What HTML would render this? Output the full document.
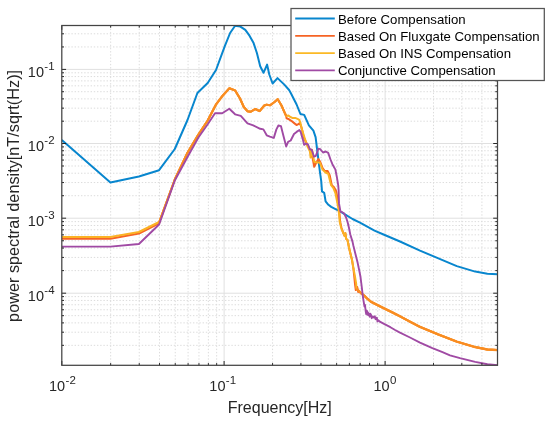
<!DOCTYPE html>
<html><head><meta charset="utf-8"><style>
html,body{margin:0;padding:0;background:#fff;}
svg{display:block;}
text{font-family:"Liberation Sans",Arial,sans-serif;fill:#262626;}
.t{font-size:14.5px;}
.s{font-size:11.5px;}
.lab{font-size:16px;}
.ylab{font-size:16.25px;}
.lg{font-size:13.2px;fill:#000;}
</style></head><body>
<svg width="550" height="424" viewBox="0 0 550 424">
<defs><clipPath id="clip"><rect x="61.8" y="25.5" width="435.70" height="339.80"/></clipPath></defs>
<rect width="550" height="424" fill="#fff"/>
<path d="M110.66 25.5V365.3M139.24 25.5V365.3M159.51 25.5V365.3M175.24 25.5V365.3M188.09 25.5V365.3M198.96 25.5V365.3M208.37 25.5V365.3M216.67 25.5V365.3M272.57 25.5V365.3M300.92 25.5V365.3M321.03 25.5V365.3M336.63 25.5V365.3M349.38 25.5V365.3M360.16 25.5V365.3M369.50 25.5V365.3M377.73 25.5V365.3M433.51 25.5V365.3M461.82 25.5V365.3M481.92 25.5V365.3M61.8 345.34H497.5M61.8 332.21H497.5M61.8 322.89H497.5M61.8 315.66H497.5M61.8 309.75H497.5M61.8 304.76H497.5M61.8 300.43H497.5M61.8 296.61H497.5M61.8 270.62H497.5M61.8 257.42H497.5M61.8 248.05H497.5M61.8 240.78H497.5M61.8 234.84H497.5M61.8 229.82H497.5M61.8 225.47H497.5M61.8 221.63H497.5M61.8 195.71H497.5M61.8 182.56H497.5M61.8 173.23H497.5M61.8 165.99H497.5M61.8 160.07H497.5M61.8 155.07H497.5M61.8 150.74H497.5M61.8 146.92H497.5M61.8 121.19H497.5M61.8 108.15H497.5M61.8 98.89H497.5M61.8 91.71H497.5M61.8 85.84H497.5M61.8 80.88H497.5M61.8 76.58H497.5M61.8 72.79H497.5M61.8 46.94H497.5M61.8 33.81H497.5" stroke="#dcdcdc" stroke-width="1" stroke-dasharray="1.4 1.8" fill="none"/>
<path d="M224.10 25.5V365.3M385.10 25.5V365.3M61.8 293.20H497.5M61.8 218.20H497.5M61.8 143.50H497.5M61.8 69.40H497.5" stroke="#e0e0e0" stroke-width="1" fill="none"/>
<g clip-path="url(#clip)">
<path d="M61.8 139.9 L110.4 182.6 L138.9 176.5 L159.1 170.2 L174.8 149.0 L187.5 120.0 L197.4 93.0 L207.7 83.0 L216.0 70.0 L224.7 46.4 L230.1 33.0 L235.1 25.7 L240.4 26.6 L245.3 29.9 L249.5 35.7 L253.6 43.1 L256.9 53.0 L260.2 66.2 L263.5 72.8 L267.1 64.6 L269.3 74.5 L272.6 83.5 L277.5 78.1 L284.1 84.4 L289.1 90.0 L290.9 93.2 L296.6 104.5 L300.4 114.0 L304.2 114.9 L308.9 125.3 L313.4 130.7 L315.6 137.1 L317.0 148.4 L318.4 159.7 L319.8 171.0 L321.2 180.9 L322.0 191.4 L324.2 192.8 L324.9 197.0 L325.6 201.3 L328.4 204.8 L331.2 206.9 L335.5 209.1 L339.7 211.2 L345.4 214.7 L352.5 219.0 L360.0 222.6 L374.5 230.6 L384.7 235.0 L400.0 241.5 L420.0 250.6 L438.4 258.4 L456.8 266.1 L475.2 271.6 L487.4 273.7 L497.5 274.3" stroke="#0886CE" stroke-width="2.0" fill="none" stroke-linejoin="round" stroke-linecap="butt"/>
<path d="M61.8 238.8 L110.4 238.8 L138.9 233.6 L159.1 223.3 L159.1 222.6 L174.8 179.5 L187.5 152.8 L198.4 134.5 L207.7 120.5 L216.0 104.5 L222.1 96.3 L229.3 88.3 L235.1 90.4 L240.0 98.5 L243.8 107.0 L247.5 111.2 L250.4 111.8 L255.3 109.0 L259.6 111.1 L264.3 105.5 L266.5 104.8 L270.2 105.2 L274.5 102.0 L277.7 99.2 L281.5 105.5 L284.5 112.3 L286.2 116.0 L286.2 116.0 L286.6 118.4 L289.0 119.3 L291.3 120.8 L294.2 123.1 L296.5 125.0 L298.4 124.1 L299.8 123.1 L301.5 127.5 L302.8 133.0 L304.2 138.5 L307.1 144.2 L309.9 149.8 L311.3 154.8 L312.7 158.3 L314.2 166.8 L316.3 162.5 L318.4 159.0 L320.5 162.5 L322.6 168.2 L324.8 171.0 L327.6 171.0 L329.7 175.3 L331.8 185.2 L334.0 187.3 L336.1 191.0 L337.5 198.0 L338.7 207.0 L339.5 214.0 L340.2 222.0 L341.5 228.0 L343.3 233.1 L344.7 236.0 L345.4 233.1 L346.1 238.8 L347.5 240.0 L349.2 248.5 L350.6 254.2 L352.0 259.8 L353.4 268.3 L354.2 276.0 L355.0 284.0 L355.8 290.0 L357.2 287.0 L358.2 292.0 L359.2 291.3 L359.2 291.3 L361.3 293.4 L364.2 295.6 L367.0 298.4 L371.2 301.9 L378.3 305.5 L385.4 309.0 L392.5 312.5 L399.5 316.1 L410.0 321.7 L420.0 326.9 L438.4 334.5 L456.8 341.6 L475.2 347.1 L487.4 349.5 L497.5 350.1" stroke="#F66324" stroke-width="2.0" fill="none" stroke-linejoin="round" stroke-linecap="butt"/>
<path d="M61.8 236.9 L110.4 236.9 L138.9 232.0 L159.1 222.0 L159.1 222.6 L174.8 179.5 L187.5 152.8 L198.4 134.5 L207.7 120.5 L216.0 104.5 L222.1 96.3 L229.3 88.3 L235.1 90.4 L240.0 98.5 L243.8 107.0 L247.5 111.2 L250.4 111.8 L255.3 109.0 L259.6 111.1 L264.3 105.5 L266.5 104.8 L270.2 105.2 L274.5 102.0 L277.7 99.2 L281.5 105.5 L284.5 112.3 L286.2 116.0 L286.2 116.0 L288.5 115.6 L290.4 117.0 L292.3 117.9 L295.1 117.9 L297.5 118.9 L299.3 119.8 L300.3 122.6 L301.7 128.3 L303.6 134.9 L305.5 140.5 L307.1 145.6 L309.9 151.2 L310.6 157.6 L312.0 149.8 L314.2 161.8 L317.0 162.5 L319.8 162.5 L322.6 169.6 L325.5 172.5 L328.3 173.9 L331.1 185.2 L333.3 188.0 L335.5 193.5 L336.9 200.6 L338.3 207.6 L339.0 213.3 L339.7 221.8 L341.1 227.5 L343.3 233.1 L344.7 236.0 L345.4 233.1 L346.1 238.8 L347.5 240.0 L349.2 248.5 L350.6 254.2 L352.0 259.8 L353.4 268.3 L354.8 275.4 L356.2 283.9 L356.4 288.5 L356.4 288.5 L359.2 291.3 L361.3 293.4 L364.2 295.6 L367.0 298.4 L371.2 301.9 L378.3 305.5 L385.4 309.0 L392.5 312.5 L399.5 316.1 L410.0 321.7 L420.0 326.9 L438.4 334.5 L456.8 341.6 L475.2 347.1 L487.4 349.5 L497.5 350.1" stroke="#FBB224" stroke-width="2.0" fill="none" stroke-linejoin="round" stroke-linecap="butt"/>
<path d="M159.1 222.6 L174.8 179.5 L187.5 152.8 L198.4 134.5 L207.7 120.5 L216.0 104.5 L222.1 96.3 L229.3 88.3 L235.1 90.4 L240.0 98.5 L243.8 107.0 L247.5 111.2 L250.4 111.8 L255.3 109.0 L259.6 111.1 L264.3 105.5 L266.5 104.8 L270.2 105.2 L274.5 102.0 L277.7 99.2 L281.5 105.5 L284.5 112.3 L286.2 116.0" stroke="#F98C22" stroke-width="2.1" fill="none" stroke-linejoin="round" stroke-linecap="butt"/>
<path d="M356.4 288.5 L359.2 291.3 L361.3 293.4 L364.2 295.6 L367.0 298.4 L371.2 301.9 L378.3 305.5 L385.4 309.0 L392.5 312.5 L399.5 316.1 L410.0 321.7 L420.0 326.9 L438.4 334.5 L456.8 341.6 L475.2 347.1 L487.4 349.5 L497.5 350.1" stroke="#F98C22" stroke-width="2.3" fill="none" stroke-linejoin="round" stroke-linecap="butt"/>
<path d="M61.8 246.6 L110.4 246.6 L138.9 244.0 L159.1 224.5 L174.8 180.5 L187.5 157.0 L198.4 137.5 L207.7 124.3 L215.0 113.3 L222.2 113.3 L229.3 108.8 L235.1 114.3 L240.8 115.8 L247.5 123.4 L253.2 125.3 L260.2 128.8 L263.4 129.4 L266.7 135.3 L269.9 136.6 L273.8 137.9 L276.4 129.4 L278.4 125.5 L281.0 126.2 L283.6 136.6 L286.2 146.5 L288.1 141.8 L290.7 140.5 L294.0 134.0 L296.6 131.9 L299.4 130.0 L300.7 132.1 L303.2 140.7 L304.1 144.9 L306.0 143.5 L307.9 144.4 L309.8 149.2 L311.7 149.6 L314.0 156.7 L315.9 155.8 L318.3 148.7 L320.2 149.2 L323.0 152.5 L325.8 151.5 L328.2 152.9 L330.5 159.5 L332.4 164.2 L335.4 169.6 L336.8 176.7 L338.2 185.2 L338.6 190.0 L339.0 203.4 L340.4 211.2 L344.0 213.3 L346.1 217.5 L347.5 221.8 L348.9 227.5 L350.3 234.5 L352.5 241.6 L353.4 245.7 L355.5 254.2 L357.6 262.6 L359.1 269.7 L360.5 276.8 L361.2 282.5 L361.9 288.1 L362.7 295.3 L363.8 302.4 L364.5 306.5 L365.0 305.0 L365.6 310.5 L366.2 314.2 L366.8 310.8 L367.4 311.8 L368.0 315.0 L368.6 313.2 L369.7 316.6 L370.3 313.8 L370.9 314.6 L371.8 318.2 L372.7 316.4 L373.9 317.6 L374.8 316.3 L375.6 319.2 L376.8 317.7 L377.5 321.5 L378.3 320.2 L379.8 321.6 L384.5 324.2 L390.4 327.2 L395.1 330.0 L399.5 332.4 L410.0 337.5 L420.0 342.6 L431.8 347.8 L442.5 352.1 L450.0 355.3 L460.0 358.2 L475.2 361.9 L487.4 364.2 L497.5 365.2" stroke="#A04AA4" stroke-width="1.9" fill="none" stroke-linejoin="round" stroke-linecap="butt"/>
</g>
<path d="M61.80 365.3v-4.3M61.80 25.5v4.3M110.66 365.3v-2.2M110.66 25.5v2.2M139.24 365.3v-2.2M139.24 25.5v2.2M159.51 365.3v-2.2M159.51 25.5v2.2M175.24 365.3v-2.2M175.24 25.5v2.2M188.09 365.3v-2.2M188.09 25.5v2.2M198.96 365.3v-2.2M198.96 25.5v2.2M208.37 365.3v-2.2M208.37 25.5v2.2M216.67 365.3v-2.2M216.67 25.5v2.2M224.10 365.3v-4.3M224.10 25.5v4.3M272.57 365.3v-2.2M272.57 25.5v2.2M300.92 365.3v-2.2M300.92 25.5v2.2M321.03 365.3v-2.2M321.03 25.5v2.2M336.63 365.3v-2.2M336.63 25.5v2.2M349.38 365.3v-2.2M349.38 25.5v2.2M360.16 365.3v-2.2M360.16 25.5v2.2M369.50 365.3v-2.2M369.50 25.5v2.2M377.73 365.3v-2.2M377.73 25.5v2.2M385.10 365.3v-4.3M385.10 25.5v4.3M433.51 365.3v-2.2M433.51 25.5v2.2M461.82 365.3v-2.2M461.82 25.5v2.2M481.92 365.3v-2.2M481.92 25.5v2.2M497.50 365.3v-2.2M497.50 25.5v2.2M61.8 345.34h2.2M497.5 345.34h-2.2M61.8 332.21h2.2M497.5 332.21h-2.2M61.8 322.89h2.2M497.5 322.89h-2.2M61.8 315.66h2.2M497.5 315.66h-2.2M61.8 309.75h2.2M497.5 309.75h-2.2M61.8 304.76h2.2M497.5 304.76h-2.2M61.8 300.43h2.2M497.5 300.43h-2.2M61.8 296.61h2.2M497.5 296.61h-2.2M61.8 293.20h4.3M497.5 293.20h-4.3M61.8 270.62h2.2M497.5 270.62h-2.2M61.8 257.42h2.2M497.5 257.42h-2.2M61.8 248.05h2.2M497.5 248.05h-2.2M61.8 240.78h2.2M497.5 240.78h-2.2M61.8 234.84h2.2M497.5 234.84h-2.2M61.8 229.82h2.2M497.5 229.82h-2.2M61.8 225.47h2.2M497.5 225.47h-2.2M61.8 221.63h2.2M497.5 221.63h-2.2M61.8 218.20h4.3M497.5 218.20h-4.3M61.8 195.71h2.2M497.5 195.71h-2.2M61.8 182.56h2.2M497.5 182.56h-2.2M61.8 173.23h2.2M497.5 173.23h-2.2M61.8 165.99h2.2M497.5 165.99h-2.2M61.8 160.07h2.2M497.5 160.07h-2.2M61.8 155.07h2.2M497.5 155.07h-2.2M61.8 150.74h2.2M497.5 150.74h-2.2M61.8 146.92h2.2M497.5 146.92h-2.2M61.8 143.50h4.3M497.5 143.50h-4.3M61.8 121.19h2.2M497.5 121.19h-2.2M61.8 108.15h2.2M497.5 108.15h-2.2M61.8 98.89h2.2M497.5 98.89h-2.2M61.8 91.71h2.2M497.5 91.71h-2.2M61.8 85.84h2.2M497.5 85.84h-2.2M61.8 80.88h2.2M497.5 80.88h-2.2M61.8 76.58h2.2M497.5 76.58h-2.2M61.8 72.79h2.2M497.5 72.79h-2.2M61.8 69.40h4.3M497.5 69.40h-4.3M61.8 46.94h2.2M497.5 46.94h-2.2M61.8 33.81h2.2M497.5 33.81h-2.2" stroke="#262626" stroke-width="1" fill="none"/>
<rect x="61.8" y="25.5" width="435.70" height="339.80" fill="none" stroke="#444" stroke-width="1.25"/>
<text x="62.4" y="390.8" text-anchor="middle" class="t">10<tspan class="s" dx="0.4" dy="-7.2">-2</tspan></text>
<text x="222.7" y="390.8" text-anchor="middle" class="t">10<tspan class="s" dx="0.4" dy="-7.2">-1</tspan></text>
<text x="385.0" y="390.8" text-anchor="middle" class="t">10<tspan class="s" dx="0.4" dy="-7.2">0</tspan></text>
<text x="54.6" y="77.0" text-anchor="end" class="t">10<tspan class="s" dx="0.4" dy="-7.2">-1</tspan></text>
<text x="54.6" y="151.1" text-anchor="end" class="t">10<tspan class="s" dx="0.4" dy="-7.2">-2</tspan></text>
<text x="54.6" y="225.8" text-anchor="end" class="t">10<tspan class="s" dx="0.4" dy="-7.2">-3</tspan></text>
<text x="54.6" y="300.8" text-anchor="end" class="t">10<tspan class="s" dx="0.4" dy="-7.2">-4</tspan></text>
<text x="279.8" y="412.5" text-anchor="middle" class="lab">Frequency[Hz]</text>
<text transform="translate(19.4,195.9) rotate(-90)" text-anchor="middle" class="ylab">power spectral density[nT/sqrt(Hz)]</text>
<rect x="291.0" y="8.5" width="253.3" height="72.0" fill="#fff" stroke="#555" stroke-width="1.25"/>
<path d="M295.2 18.5H334.8" stroke="#0886CE" stroke-width="1.8"/>
<text x="338" y="23.5" class="lg">Before Compensation</text>
<path d="M295.2 35.8H334.8" stroke="#F66324" stroke-width="1.8"/>
<text x="338" y="40.8" class="lg">Based On Fluxgate Compensation</text>
<path d="M295.2 53.1H334.8" stroke="#FBB925" stroke-width="1.8"/>
<text x="338" y="58.1" class="lg">Based On INS Compensation</text>
<path d="M295.2 70.4H334.8" stroke="#A04AA4" stroke-width="1.8"/>
<text x="338" y="75.4" class="lg">Conjunctive Compensation</text>
</svg>
</body></html>
